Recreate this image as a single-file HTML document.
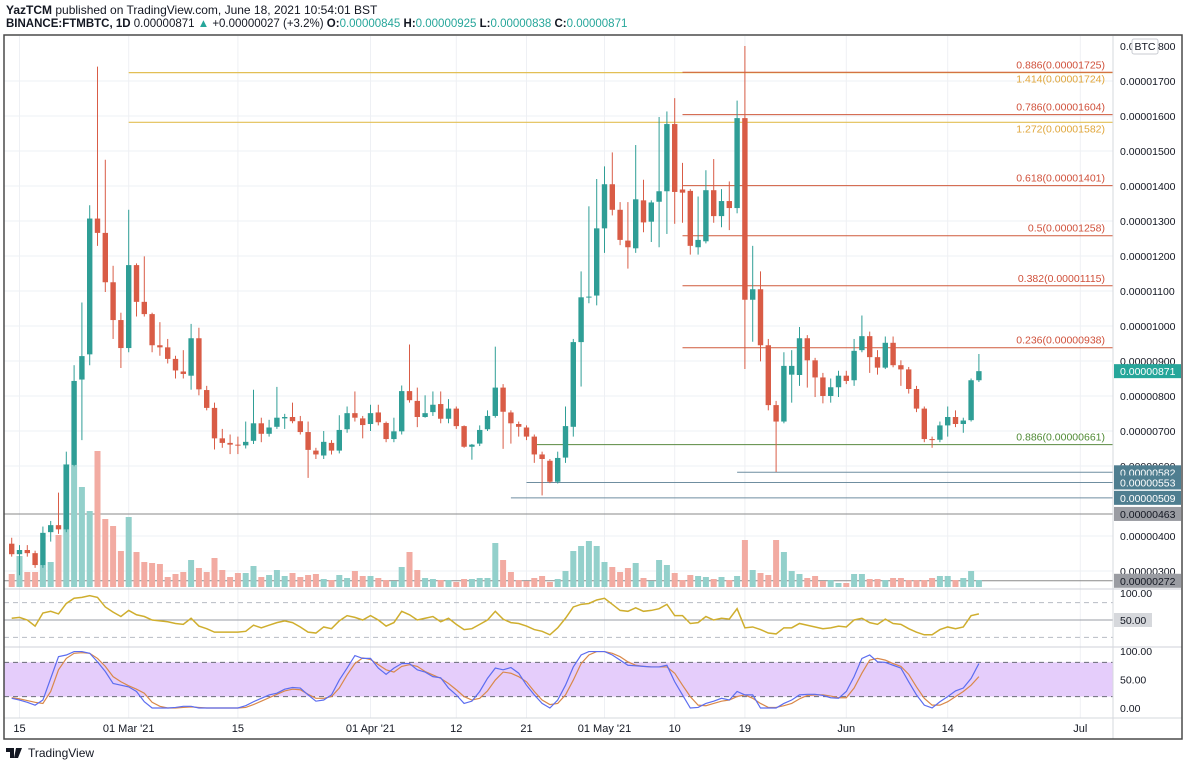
<!DOCTYPE html>
<html><head><meta charset="utf-8">
<style>
html,body{margin:0;padding:0;background:#fff;}
svg{display:block;font-family:"Liberation Sans",Arial,sans-serif;}
</style></head>
<body>
<svg id="chart" width="1186" height="768" viewBox="0 0 1186 768" xmlns="http://www.w3.org/2000/svg">
  <rect x="0" y="0" width="1186" height="768" fill="#ffffff"/>
  <text x="6" y="14" font-size="12" fill="#131722"><tspan font-weight="bold">YazTCM</tspan> published on TradingView.com, June 18, 2021 10:54:01 BST</text>
  <text x="6" y="27" font-size="11.5" fill="#131722"><tspan font-weight="bold">BINANCE:FTMBTC, 1D</tspan> 0.00000871 <tspan fill="#26a69a">▲</tspan> +0.00000027 (+3.2%) <tspan font-weight="bold">O:</tspan><tspan fill="#26a69a">0.00000845</tspan> <tspan font-weight="bold">H:</tspan><tspan fill="#26a69a">0.00000925</tspan> <tspan font-weight="bold">L:</tspan><tspan fill="#26a69a">0.00000838</tspan> <tspan font-weight="bold">C:</tspan><tspan fill="#26a69a">0.00000871</tspan></text>
  <g id="grid"></g>
  <g id="fibs"></g>
  <g id="volume"></g>
  <g id="candles"></g>
  <g id="rsi"></g>
  <g id="stoch"></g>
  <g id="axes"></g>
  <rect x="4" y="35" width="1178" height="704" fill="none" stroke="#4a4a4a" stroke-width="1.5"/>
  <g>
    <path d="M6 748 h8 v10 h-4 v-6 h-4z M16 748 h6 l-4 10 h-4z" fill="#131722"/>
    <text x="28" y="757" font-size="12" fill="#131722">TradingView</text>
  </g>
</svg>
<script>
const opens=[378,348,360,351,317,411,431,419,603,847,919,1307,1266,1125,1017,937,1174,1069,1034,945,939,906,870,858,965,817,766,679,666,661,659,672,722,692,712,736,740,728,697,644,630,666,644,705,751,736,720,753,723,677,699,814,786,740,754,777,735,764,714,655,664,705,743,824,753,720,710,684,633,615,555,624,712,954,1082,1087,1279,1405,1332,1244,1222,1359,1298,1355,1385,1577,1390,1386,1225,1242,1388,1314,1357,1337,1594,1075,1105,945,774,727,861,860,965,902,853,800,825,858,845,931,971,911,881,952,888,876,820,764,677,675,716,740,720,731,845];
const highs=[395,374,374,358,427,443,524,641,888,1067,1345,1741,1475,1172,1038,1332,1179,1199,1038,1011,963,915,931,1006,995,829,781,706,690,684,727,818,738,732,826,749,781,743,727,652,700,674,745,770,813,743,775,775,727,738,830,947,824,802,813,813,791,770,716,663,716,759,941,834,759,727,716,690,641,620,641,770,963,1156,1342,1420,1456,1496,1354,1354,1517,1418,1359,1597,1613,1651,1466,1391,1370,1445,1477,1391,1413,1644,1800,1229,1156,963,786,925,931,997,974,909,866,850,872,872,963,1030,984,931,970,970,902,883,829,770,684,727,770,759,738,850,920];
const lows=[341,288,341,309,309,384,406,411,599,674,888,1229,1097,963,880,925,1027,1027,925,915,893,850,850,818,802,759,647,652,634,634,650,663,668,684,706,706,722,690,566,620,620,633,636,695,727,679,700,716,668,668,690,781,711,738,743,722,722,706,652,618,657,700,738,649,664,684,674,609,516,551,550,609,684,827,1065,1059,1209,1316,1231,1164,1209,1268,1240,1225,1263,1292,1295,1204,1204,1236,1295,1282,1274,1322,877,955,899,759,583,722,781,829,824,797,779,781,797,834,829,925,866,861,877,882,829,807,754,668,652,668,684,711,695,727,840];
const closes=[348,360,351,317,409,431,419,603,843,914,1307,1266,1125,1017,937,1174,1069,1034,945,939,906,873,863,965,819,766,679,666,661,659,669,722,692,710,738,740,728,697,646,633,669,644,703,751,738,717,751,725,677,699,814,788,740,751,775,735,764,714,655,661,703,743,824,755,722,712,684,633,620,555,623,714,954,1082,1084,1279,1405,1332,1246,1225,1362,1296,1353,1385,1577,1383,1381,1229,1246,1388,1314,1357,1337,1594,1075,1105,945,774,727,886,886,965,902,853,800,825,858,843,929,971,911,881,952,888,876,820,764,677,674,716,740,720,730,845,871];
const volumes=[13,31,15,15,22,25,52,123,122,100,76,136,68,61,36,70,35,25,24,23,10,13,15,27,19,15,29,17,10,14,14,21,10,12,17,11,14,10,12,13,8,7,12,9,16,11,11,9,7,6,20,35,17,9,8,7,7,5,8,8,9,9,44,27,15,7,6,9,11,5,8,16,36,41,46,41,25,20,15,19,24,9,6,27,22,14,7,12,11,10,8,10,7,11,47,17,14,12,47,35,16,13,9,11,6,7,4,4,13,13,8,8,7,9,9,7,7,7,9,11,11,7,9,16,7];
const rsiValues=[52,53,50,43,58,60,57,69,75,76,78,76,65,59,54,61,56,54,50,49,48,46,45,52,43,40,36,36,36,36,37,44,41,44,47,49,47,42,36,35,42,40,49,55,53,50,55,50,43,47,60,56,50,52,54,48,52,45,39,40,45,50,60,51,47,46,43,39,37,33,41,52,65,68,69,73,75,68,61,60,64,60,61,63,68,55,55,46,47,54,50,52,51,63,41,42,39,35,34,41,41,46,44,42,40,41,43,42,50,52,47,45,51,46,45,40,36,33,33,39,42,40,42,55,57];
const stochK=[17,14,10,5,14,52,90,93,99,99,96,81,64,43,40,37,29,11,0,0,0,1,3,3,0,0,0,0,0,0,4,11,17,23,26,33,36,35,23,12,14,23,49,70,92,87,87,70,59,70,78,78,67,63,55,53,35,23,8,12,29,52,70,67,71,61,40,23,8,0,14,40,72,93,99,99,99,93,84,75,74,73,72,72,75,46,23,0,1,8,12,17,14,29,23,23,0,0,0,8,14,23,24,24,22,18,17,29,55,87,93,81,80,75,70,46,23,5,0,11,20,30,35,52,78];
const stochD=[18,16,13,10,8,29,67,87,96,97,96,87,73,55,46,39,33,26,10,3,0,0,1,2,1,0,0,0,0,0,1,6,12,18,24,30,33,32,24,17,17,20,35,58,78,88,85,76,67,63,73,76,73,64,58,52,43,32,20,14,17,30,49,63,61,55,46,29,14,6,8,23,49,78,93,99,99,96,90,81,75,73,72,72,72,61,40,20,5,4,8,12,14,20,23,17,8,1,1,4,8,16,22,23,23,21,18,18,35,61,84,87,84,78,73,59,37,17,5,5,11,20,29,40,55];
const priceTicks=[1700,1600,1500,1400,1300,1200,1100,1000,900,800,700,600,400,300];
const timeLabels=["15","01 Mar '21","15","01 Apr '21","12","21","01 May '21","10","19","Jun","14","Jul"];
const timeDays=[1,15,29,46,57,66,76,85,94,107,120,137];
const fibNames=["0.886","0.786","0.618","0.5","0.382","0.236"];
const fibValues=[1725,1604,1401,1258,1115,938];
const extNames=["1.414","1.272"];
const extValues=[1724,1582];
const rayValues=[582,553,509];
const rayStartDays=[93,66,64];

const NS="http://www.w3.org/2000/svg";
const PL=4, PR=1113;
function xOf(d){return 11.7+7.8*d;}
function yP(v){return 81+(1700-v)*0.35;}
function yV(v){return 587-v*1.0;}
function yR(v){return 620-(v-50)*0.87;}
function yS(v){return 708-v*0.57;}
function mk(tag,attrs,parent){const e=document.createElementNS(NS,tag);for(const k in attrs)e.setAttribute(k,attrs[k]);parent.appendChild(e);return e;}
function fmt(v){return "0."+String(Math.round(v)).padStart(8,"0");}

const grid=document.getElementById('grid');
timeDays.forEach(d=>{const l=mk('line',{x1:xOf(d),x2:xOf(d),y1:36,y2:718,stroke:'#eef0f4','stroke-width':1},grid);

});
priceTicks.forEach(v=>{const l=mk('line',{x1:PL,x2:PR,y1:yP(v),y2:yP(v),stroke:'#eef0f4','stroke-width':1},grid);

});

const fibs=document.getElementById('fibs');
extValues.forEach((v,i)=>{
  const l=mk('line',{x1:xOf(15),x2:PR,y1:yP(v),y2:yP(v),stroke:'#e2bf55','stroke-width':1.2},fibs);
  
  
  const t=mk('text',{x:1105,y:yP(v)+10,'text-anchor':'end','font-size':10.5,fill:'#e0a63a'},fibs);
  t.textContent=extNames[i]+"("+fmt(v)+")";
  
  
});
fibValues.forEach((v,i)=>{
  const l=mk('line',{x1:xOf(86),x2:PR,y1:yP(v),y2:yP(v),stroke:'#cf5a3c','stroke-width':1},fibs);
  
  
  const t=mk('text',{x:1105,y:yP(v)-4,'text-anchor':'end','font-size':10.5,fill:'#d0503a'},fibs);
  t.textContent=fibNames[i]+"("+fmt(v)+")";
  
  
});
{
  const l=mk('line',{x1:xOf(67),x2:PR,y1:yP(661),y2:yP(661),stroke:'#5a8a40','stroke-width':1},fibs);
  
  
  const t=mk('text',{x:1105,y:yP(661)-4,'text-anchor':'end','font-size':10.5,fill:'#4f8a35'},fibs);
  t.textContent="0.886("+fmt(661)+")";
  
  
}
rayValues.forEach((v,i)=>{
  const l=mk('line',{x1:xOf(rayStartDays[i]),x2:PR,y1:yP(v),y2:yP(v),stroke:'#6f8ea0','stroke-width':1},fibs);
  
  
});
[463,272].forEach(v=>{
  const l=mk('line',{x1:PL,x2:PR,y1:yP(v),y2:yP(v),stroke:'#8a8a8a','stroke-width':1},fibs);
  
  
});

const vg=document.getElementById('volume');
volumes.forEach((v,i)=>{
  const up=closes[i]>=opens[i];
  const x=xOf(i);
  const r=mk('rect',{x:x-3,y:yV(v),width:6,height:587-yV(v),fill:up?'#93d0cb':'#f2aba2'},vg);
  
  
});

const cg=document.getElementById('candles');
const clip=mk('clipPath',{id:'mainclip'},cg);
mk('rect',{x:PL,y:36,width:PR-PL,height:554},clip);
cg.setAttribute('clip-path','url(#mainclip)');
opens.forEach((o,i)=>{
  const c=closes[i], up=c>=o, col=up?'#2f9e96':'#d95c46';
  const x=xOf(i);
  const w=mk('line',{x1:x,x2:x,y1:yP(highs[i]),y2:yP(lows[i]),stroke:col,'stroke-width':1},cg);
  
  
  const top=yP(Math.max(o,c)), bot=yP(Math.min(o,c));
  const b=mk('rect',{x:x-2.7,y:top,width:5.4,height:Math.max(1,bot-top),fill:col},cg);
  
  
});

const rg=document.getElementById('rsi');
mk('line',{x1:PL,x2:1182,y1:589,y2:589,stroke:'#cfd2d8'},rg);
[70,30].forEach(v=>{const l=mk('line',{x1:PL,x2:PR,y1:yR(v),y2:yR(v),stroke:'#b8bcc4','stroke-dasharray':'5,4'},rg);

});
{const l=mk('line',{x1:PL,x2:PR,y1:yR(50),y2:yR(50),stroke:'#9a9ea6'},rg);

}
{const p=mk('polyline',{points:rsiValues.map((v,i)=>xOf(i)+','+yR(v)).join(' '),fill:'none',stroke:'#cfae2e','stroke-width':1.5},rg);

}

const sg=document.getElementById('stoch');
mk('line',{x1:PL,x2:1182,y1:647,y2:647,stroke:'#cfd2d8'},sg);
{const r=mk('rect',{x:PL,y:yS(80),width:PR-PL,height:yS(20)-yS(80),fill:'#e5cdfb'},sg);

}
[80,20].forEach(v=>{const l=mk('line',{x1:PL,x2:PR,y1:yS(v),y2:yS(v),stroke:'#6b6e78','stroke-dasharray':'5,4'},sg);

});
{const p=mk('polyline',{points:stochD.map((v,i)=>xOf(i)+','+yS(v)).join(' '),fill:'none',stroke:'#d9884a','stroke-width':1.2},sg);

}
{const p=mk('polyline',{points:stochK.map((v,i)=>xOf(i)+','+yS(v)).join(' '),fill:'none',stroke:'#5c6df0','stroke-width':1.2},sg);

}

const ax=document.getElementById('axes');
mk('line',{x1:PR,x2:PR,y1:36,y2:739,stroke:'#d6d8de'},ax);
mk('line',{x1:PL,x2:1182,y1:718,y2:718,stroke:'#d6d8de'},ax);
priceTicks.forEach(v=>{
  const t=mk('text',{x:1120,y:yP(v)+4,'font-size':10.5,fill:'#131722'},ax);
  t.textContent=fmt(v);
  
  
});
{const t=mk('text',{x:1120,y:50,'font-size':10.5,fill:'#131722'},ax);t.textContent="0.00001800";

}
{const r=mk('rect',{x:1132,y:39,width:26,height:15,rx:2,fill:'#fff',stroke:'#c8cbd2'},ax);


const t=mk('text',{x:1145,y:50,'font-size':10.5,'text-anchor':'middle',fill:'#131722'},ax);t.textContent="BTC";

}
function box(v,bg,fg,name){
  const y=yP(v);
  const r=mk('rect',{x:1114,y:y-7,width:67,height:14,fill:bg},ax);
  
  
  const t=mk('text',{x:1120,y:y+4,'font-size':10.5,fill:fg},ax);
  t.textContent=fmt(v);
  
  
}
box(closes[closes.length-1],'#26a69a','#ffffff','last-price');
rayValues.forEach(v=>box(v,'#4f7e90','#ffffff','support-price'));
box(463,'#9a9ca2','#131722','level-price');
box(272,'#9a9ca2','#131722','level-price');
{const r=mk('rect',{x:1114,y:yR(50)-7,width:38,height:14,fill:'#d6d8dc'},ax);


const t=mk('text',{x:1120,y:yR(50)+4,'font-size':10.5,fill:'#131722'},ax);t.textContent="50.00";

}
{const t=mk('text',{x:1120,y:597,'font-size':10.5,fill:'#131722'},ax);t.textContent="100.00";

}
[100,50,0].forEach(v=>{const t=mk('text',{x:1120,y:yS(v)+4,'font-size':10.5,fill:'#131722'},ax);t.textContent=v.toFixed(2);

});
timeLabels.forEach((s,i)=>{
  const t=mk('text',{x:xOf(timeDays[i]),y:732,'font-size':11,'text-anchor':'middle',fill:'#131722'},ax);
  t.textContent=s;
  
  
});
</script>
</body></html>
